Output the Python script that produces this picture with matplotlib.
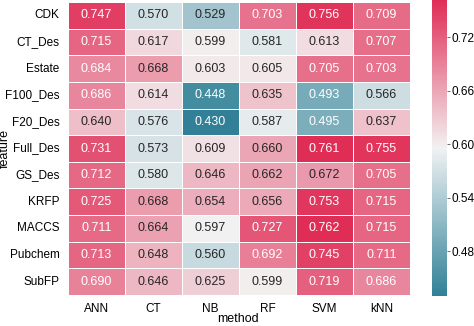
import matplotlib
matplotlib.use("Agg")
import matplotlib.pyplot as plt
import numpy as np
import pandas as pd
import seaborn as sns

# AUC của từng bộ đặc trưng với từng thuật toán
features = ["CDK", "CT_Des", "Estate", "F100_Des", "F20_Des", "Full_Des",
            "GS_Des", "KRFP", "MACCS", "Pubchem", "SubFP"]
methods = ["ANN", "CT", "NB", "RF", "SVM", "kNN"]

ann = [0.747, 0.715, 0.684, 0.686, 0.640, 0.731, 0.712, 0.725, 0.711, 0.713, 0.690]
ct = [0.570, 0.617, 0.668, 0.614, 0.576, 0.573, 0.580, 0.668, 0.664, 0.648, 0.646]
nb = [0.529, 0.599, 0.603, 0.448, 0.430, 0.609, 0.646, 0.654, 0.597, 0.560, 0.625]
rf = [0.703, 0.581, 0.605, 0.635, 0.587, 0.660, 0.662, 0.656, 0.727, 0.692, 0.599]
svm = [0.756, 0.613, 0.705, 0.493, 0.495, 0.761, 0.672, 0.753, 0.762, 0.745, 0.719]
knn = [0.709, 0.707, 0.703, 0.566, 0.637, 0.755, 0.705, 0.715, 0.715, 0.711, 0.686]

df = pd.DataFrame(np.array([ann, ct, nb, rf, svm, knn]).T, index=features, columns=methods)
df.index.name = "feature"
df.columns.name = "method"

plt.rcParams["font.family"] = ["Liberation Sans", "DejaVu Sans"]

fig = plt.figure(figsize=(4.74, 3.26), dpi=100)
ax = fig.add_axes([68 / 474, 1 - 295 / 326, 342 / 474, 293 / 326])
cax = fig.add_axes([432 / 474, 1 - 296 / 326, 15 / 474, 296 / 326])

cmap = sns.diverging_palette(220, 5, s=85, l=50, as_cmap=True)
sns.heatmap(df, ax=ax, cbar_ax=cax, cmap=cmap, annot=True, fmt=".3f",
            linewidths=0.5, linecolor="white", annot_kws={"fontsize": 9})

ax.tick_params(length=0, labelsize=8.5, pad=6)
ax.set_yticklabels(features, rotation=0)
ax.set_xticklabels(methods, rotation=0)
ax.set_xlabel("method", fontsize=9, labelpad=0)
ax.xaxis.set_label_coords(170 / 342, -18 / 293)
ax.set_ylabel("feature", fontsize=9)
ax.yaxis.set_label_coords(-57 / 342, 0.5)

cax.set_yticks([0.48, 0.54, 0.60, 0.66, 0.72])
cax.set_yticklabels(["0.48", "0.54", "0.60", "0.66", "0.72"])
cax.tick_params(length=2, width=0.6, labelsize=8.5, pad=1, color="#555555")

fig.savefig("out.png", dpi=100)
